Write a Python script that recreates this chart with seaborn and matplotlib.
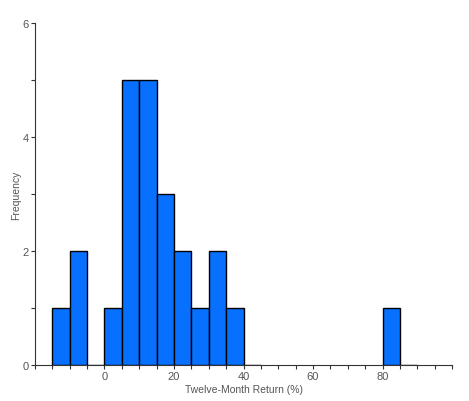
import matplotlib
matplotlib.use("Agg")
import matplotlib.pyplot as plt
import seaborn as sns
from matplotlib.ticker import MultipleLocator

sns.set_style("ticks")
plt.rcParams["font.family"] = ["Liberation Sans", "DejaVu Sans"]

# bin centers (%) and how many funds fall in each 5-point bin
main_centers = [-12.5, -7.5, -2.5, 2.5, 7.5, 12.5, 17.5, 22.5, 27.5, 32.5, 37.5, 42.5]
main_counts = [1, 2, 0, 1, 5, 5, 3, 2, 1, 2, 1, 0]
tail_centers = [82.5, 87.5]
tail_counts = [1, 0]

main_edges = list(range(-15, 50, 5))
tail_edges = [80, 85, 90]

bar_color = "#0770FF"
text_color = "#555555"

fig, ax = plt.subplots(figsize=(4.69, 4.02), dpi=100)
fig.subplots_adjust(left=0.0746, right=0.9638, bottom=0.0896, top=0.9403)

sns.histplot(x=main_centers, weights=main_counts, bins=main_edges, ax=ax,
             color=bar_color, alpha=1, edgecolor="black", linewidth=1)
sns.histplot(x=tail_centers, weights=tail_counts, bins=tail_edges, ax=ax,
             color=bar_color, alpha=1, edgecolor="black", linewidth=1)

ax.set_xlim(-20, 100)
ax.set_ylim(0, 6)
ax.set_xticks([0, 20, 40, 60, 80])
ax.xaxis.set_minor_locator(MultipleLocator(5))
ax.set_yticks([0, 2, 4, 6])
ax.yaxis.set_minor_locator(MultipleLocator(1))

ax.tick_params(which="both", length=3, width=0.8, color="#333333",
               labelsize=8, labelcolor=text_color, pad=1.5)
ax.set_xlabel("Twelve-Month Return (%)", fontsize=7.5, color=text_color, labelpad=2)
ax.set_ylabel("Frequency", fontsize=7.5, color=text_color, labelpad=1)

sns.despine(ax=ax)
for side in ("left", "bottom"):
    ax.spines[side].set_color("#333333")
    ax.spines[side].set_linewidth(0.8)

fig.savefig("out.png", dpi=100)
